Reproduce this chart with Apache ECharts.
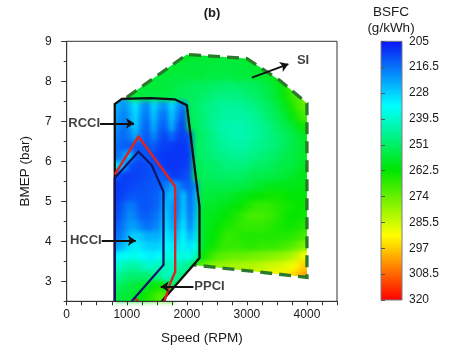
<!DOCTYPE html>
<html><head><meta charset="utf-8">
<script src="https://cdn.jsdelivr.net/npm/echarts@6/dist/echarts.min.js"></script>
<style>html,body{margin:0;padding:0;background:#fff}.L{position:absolute;left:0;top:0;width:474px;height:363px}#b{filter:blur(2.5px)}</style>
</head><body><div id="a" class="L"></div><div id="b" class="L"></div><div id="c" class="L"></div>
<script>
const n = null;
// Cell centres of the BSFC map (Speed in RPM, BMEP in bar)
const speedCols = [850,950,1050,1150,1250,1350,1450,1550,1650,1750,1850,1950,2050,2150,2250,2350,2450,2550,2650,2750,2850,2950,3050,3150,3250,3350,3450,3550,3650,3750,3850,3950];
const bmepRows = [8.625,8.375,8.125,7.875,7.625,7.375,7.125,6.875,6.625,6.375,6.125,5.875,5.625,5.375,5.125,4.875,4.625,4.375,4.125,3.875,3.625,3.375,3.125,2.875,2.625];
const bsfc = [
 [n,n,n,n,n,n,n,n,n,n,258,258,258,258,257,257,257,256,256,257,257,258,259,n,n,n,n,n,n,n,n,n],
 [n,n,n,n,n,n,n,n,257,257,257,257,256,256,256,256,256,256,256,256,256,256,257,257,258,259,n,n,n,n,n,n],
 [n,n,n,n,n,256,256,256,256,256,256,256,256,256,256,255,255,255,255,255,256,256,256,257,257,258,260,263,n,n,n,n],
 [n,n,n,257,256,256,256,256,256,255,254,253,253,252,252,252,251,251,250,250,251,251,252,252,254,255,257,260,265,270,n,n],
 [224,222,256,256,256,255,255,255,255,254,253,253,252,252,251,250,249,248,248,248,248,249,250,251,252,254,256,259,264,268,272,274],
 [224,220,224,232,222,218,230,222,220,230,222,216,252,251,249,248,247,246,245,245,245,246,247,248,250,251,254,256,260,265,270,273],
 [222,218,222,230,220,216,228,218,216,228,218,212,254,251,250,248,246,245,244,244,244,244,245,246,248,250,252,254,257,261,266,270],
 [220,216,220,228,218,214,225,215,214,225,214,210,254,252,250,248,246,244,243,243,243,243,244,245,246,248,250,252,254,256,260,264],
 [218,215,218,224,216,213,220,213,211,216,211,210,213,253,251,249,247,245,244,243,243,243,244,245,246,247,249,251,252,254,256,259],
 [216,214,214,213,213,213,214,211,210,210,209,209,211,252,251,249,248,246,245,244,244,244,245,246,247,248,249,251,252,254,255,258],
 [216,220,228,214,213,213,211,210,209,209,209,209,210,252,251,250,249,248,247,246,246,246,247,248,249,250,251,252,254,255,256,258],
 [230,225,213,211,211,212,213,211,209,209,209,210,211,253,252,251,251,250,249,249,249,249,250,251,251,252,253,254,255,255,257,259],
 [213,210,210,211,211,212,213,214,213,210,210,211,213,254,253,252,252,251,251,251,251,252,253,254,254,255,255,256,257,258,259,260],
 [210,210,211,212,212,213,213,214,218,222,220,215,214,220,255,254,254,254,254,254,255,255,256,257,258,259,260,260,260,260,260,261],
 [210,211,213,213,213,213,214,215,222,226,216,228,214,224,256,256,256,257,257,258,259,260,261,262,263,264,264,264,263,262,262,262],
 [211,214,218,216,213,213,214,216,226,222,216,228,215,224,257,258,258,259,260,261,262,264,266,268,268,268,267,266,265,264,263,263],
 [212,216,220,218,214,214,216,218,228,222,218,230,216,226,258,259,260,261,262,264,266,268,270,270,270,269,268,266,264,263,263,264],
 [214,218,222,222,218,216,218,220,230,224,222,232,218,228,258,259,261,263,265,266,267,268,268,268,268,267,266,265,264,264,265,266],
 [216,220,226,228,226,224,224,224,232,228,226,234,224,230,258,260,262,265,268,268,267,266,266,266,266,266,266,266,266,267,268,270],
 [222,226,230,232,230,228,228,228,234,232,230,236,230,234,258,261,264,267,268,268,268,267,267,267,268,268,268,269,270,272,274,277],
 [232,234,236,236,234,232,232,234,238,236,236,238,236,240,262,266,270,272,273,274,274,274,275,276,276,277,278,279,280,282,285,290],
 [240,242,244,244,242,240,240,242,242,240,242,244,248,262,274,276,278,279,280,281,281,282,282,283,284,285,286,287,288,290,293,297],
 [246,248,250,250,250,250,248,246,240,242,246,250,252,n,n,n,n,n,n,n,n,n,n,288,289,290,291,292,293,295,298,302],
 [252,253,255,256,257,259,262,265,262,252,254,n,n,n,n,n,n,n,n,n,n,n,n,n,n,n,n,n,n,n,n,n],
 [255,256,257,258,262,265,268,272,272,265,n,n,n,n,n,n,n,n,n,n,n,n,n,n,n,n,n,n,n,n,n,n]
];
// Mode boundaries [speed, bmep]
const rcciLine = [[1583,2.5],[2211,3.58],[2211,4.87],[2000,7.40],[1800,7.55],[1400,7.58],[920,7.56],[800,7.43],[800,2.5]];
const ppciLine = [[800,5.67],[1194,6.62],[1806,5.37],[1806,3.24],[1722,2.95],[1628,2.5]];
const ppciTail = [[1135,2.57],[1195,2.5]];
const hcciLine = [[1083,2.5],[1611,3.41],[1611,5.24],[1417,5.9],[1194,6.24],[800,5.58],[800,2.5]];
const siLine = [[1000,7.6],[2000,8.67],[3000,8.57],[3550,8.02],[4000,7.45],[4000,3.1],[2111,3.41]];
const mapEdge = [[800,2.5],[800,7.43],[920,7.56],[1000,7.6],[2000,8.67],[3000,8.57],[3550,8.02],[4000,7.45],[4000,3.1],[2111,3.41],[1583,2.5]];
// Axes
const xRange = [0,4500], yRange = [2.5,9];
const xTicks = [0,1000,2000,3000,4000];
const yTicks = [3,4,5,6,7,8,9];
const cbTicks = [205,216.5,228,239.5,251,262.5,274,285.5,297,308.5,320];
const colors = ['#0a14f5','#00ffff','#00e600','#ffff00','#ff0000'];

const FONT = "'Liberation Sans', Arial, sans-serif";
const TXT = '#1a1a1a';
const cells = [];
bmepRows.forEach((b, j) => speedCols.forEach((s, i) => { const v = bsfc[j][i]; if (v != null) cells.push([s, b, v]); }));
const dx = speedCols[1] - speedCols[0], dy = bmepRows[0] - bmepRows[1];
const mainGrid = {left:66.7, top:41.3, width:270.3, height:260};
const cbMin = cbTicks[0], cbMax = cbTicks[cbTicks.length-1];

// map layers (sharp + softened copy), drawn through the same axes
function mapOption() {
  return {
    animation:false,
    grid:[Object.assign({}, mainGrid)],
    xAxis:[{type:'value', min:xRange[0], max:xRange[1], show:false}],
    yAxis:[{type:'value', min:yRange[0], max:yRange[1], show:false}],
    visualMap:{show:false, type:'continuous', min:cbMin, max:cbMax, dimension:2, seriesIndex:0, inRange:{color:colors}},
    series:[{type:'custom', data:cells, silent:true,
      renderItem:(p, api) => {
        const c = api.coord([api.value(0), api.value(1)]);
        const s = api.size([dx, dy]);
        return {type:'rect', shape:{x:c[0]-s[0]/2-0.3, y:c[1]-s[1]/2-0.3, width:s[0]+0.6, height:s[1]+0.6}, style:{fill:api.visual('color')}};
      }}]
  };
}
echarts.init(document.getElementById('a')).setOption(mapOption());
echarts.init(document.getElementById('b')).setOption(mapOption());

const chart = echarts.init(document.getElementById('c'));
const lineS = (data, color, width, type, z) => ({type:'line', xAxisIndex:0, yAxisIndex:0, data, symbol:'none', silent:true, z,
  lineStyle:{color, width, type: type || 'solid', cap:'butt', join:'miter'}});

chart.setOption({
  animation:false,
  graphic:[
    {type:'text', x:212, y:13, style:{text:'(b)', font:'bold 13px '+FONT, fill:TXT, textAlign:'center', textVerticalAlign:'middle'}},
    {type:'text', x:391, y:12, style:{text:'BSFC', font:'13.5px '+FONT, fill:TXT, textAlign:'center', textVerticalAlign:'middle'}},
    {type:'text', x:391, y:28, style:{text:'(g/kWh)', font:'13.5px '+FONT, fill:TXT, textAlign:'center', textVerticalAlign:'middle'}}
  ],
  grid:[
    Object.assign({show:true, borderColor:'#333', borderWidth:1, z:8}, mainGrid),
    {left:381, top:41.3, width:21, height:258.7, show:true, borderColor:'#7a7a8a', borderWidth:1, z:8}
  ],
  xAxis:[
    {gridIndex:0, type:'value', min:xRange[0], max:xRange[1], interval:250, z:9,
     name:'Speed (RPM)', nameLocation:'middle', nameGap:30, nameTextStyle:{fontSize:13.5, color:TXT, fontFamily:FONT},
     axisLine:{lineStyle:{color:'#333'}}, axisTick:{length:4, lineStyle:{color:'#333'}},
     axisLabel:{customValues:xTicks, formatter:v => String(v), fontSize:12, color:TXT, margin:7, fontFamily:FONT}, splitLine:{show:false}},
    {gridIndex:1, type:'value', min:0, max:1, show:false}
  ],
  yAxis:[
    {gridIndex:0, type:'value', min:yRange[0], max:yRange[1], interval:0.5, z:9, position:'left',
     name:'BMEP (bar)', nameLocation:'middle', nameGap:34, nameRotate:90, nameTextStyle:{fontSize:13.5, color:TXT, fontFamily:FONT},
     axisLine:{show:true, lineStyle:{color:'#333'}}, axisTick:{length:3, lineStyle:{color:'#333'}},
     axisLabel:{customValues:yTicks, formatter:v => String(v), fontSize:12, color:TXT, margin:15, fontFamily:FONT}, splitLine:{show:false}},
    {gridIndex:0, type:'value', min:yRange[0], max:yRange[1], z:9, position:'left',
     axisLine:{show:false}, axisTick:{show:true, customValues:yTicks, length:5.5, lineStyle:{color:'#333'}},
     axisLabel:{show:false}, splitLine:{show:false}},
    {gridIndex:1, type:'value', min:cbMin, max:cbMax, inverse:true, position:'right', z:9,
     axisLine:{show:false}, axisTick:{show:true, customValues:cbTicks, length:4, lineStyle:{color:'#555'}},
     axisLabel:{customValues:cbTicks, formatter:v => String(v), fontSize:12, color:TXT, margin:7, fontFamily:FONT}, splitLine:{show:false}}
  ],
  series:[
    {type:'custom', xAxisIndex:0, yAxisIndex:0, data:[[0]], silent:true, z:2,
     renderItem:(p, api) => {
       const outer = [[xRange[0],yRange[0]],[xRange[1],yRange[0]],[xRange[1],yRange[1]],[xRange[0],yRange[1]],[xRange[0],yRange[0]]];
       const pts = outer.concat(mapEdge, [mapEdge[0]]).map(q => api.coord(q));
       return {type:'polygon', shape:{points:pts}, style:{fill:'#ffffff'}};
     }},
    lineS(siLine, '#2b7a2b', 3.3, [12,7], 3),
    lineS(rcciLine, '#111111', 2.3, 'solid', 4),
    lineS(ppciLine, '#dd2424', 2.4, 'solid', 5),
    lineS(ppciTail, '#dd2424', 2.4, 'solid', 5),
    lineS(hcciLine, '#14146a', 2.3, 'solid', 6),
    {type:'lines', coordinateSystem:'cartesian2d', xAxisIndex:0, yAxisIndex:0, silent:true, z:7,
     symbol:['none','arrow'], symbolSize:[0,8],
     lineStyle:{color:'#111', width:1.8, opacity:1, curveness:0},
     data:[
       {coords:[[3083,8.09],[3690,8.43]]},
       {coords:[[555,6.95],[1120,6.95]]},
       {coords:[[583,4.015],[1150,4.015]]},
       {coords:[[2110,2.865],[1565,2.865]]}
     ]},
    {type:'scatter', xAxisIndex:0, yAxisIndex:0, symbolSize:0, silent:true, z:7,
     label:{show:true, formatter:'{b}', fontSize:13, fontWeight:'bold', color:'#111', fontFamily:FONT, distance:0},
     data:[
       {name:'SI', value:[3833,8.52], label:{position:'right'}},
       {name:'RCCI', value:[555,6.95], label:{position:'left'}},
       {name:'HCCI', value:[583,4.015], label:{position:'left'}},
       {name:'PPCI', value:[2125,2.865], label:{position:'right'}}
     ]},
    {type:'custom', xAxisIndex:1, yAxisIndex:2, data:[[0, cbMin, cbMax]], silent:true, z:1,
     renderItem:(p, api) => {
       const a = api.coord([0, api.value(1)]), b = api.coord([1, api.value(2)]);
       return {type:'rect', shape:{x:a[0], y:Math.min(a[1],b[1]), width:b[0]-a[0], height:Math.abs(b[1]-a[1])},
         style:{fill:new echarts.graphic.LinearGradient(0,0,0,1, colors.map((c,i)=>({offset:i/(colors.length-1), color:c})))}};
     }}
  ]
});
</script></body></html>
